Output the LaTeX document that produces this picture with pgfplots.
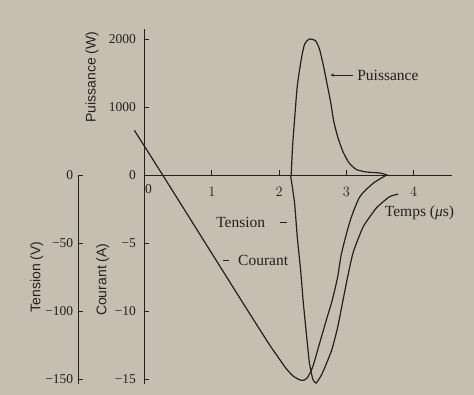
\documentclass[border=0pt]{standalone}
\usepackage{fontspec}
\setmainfont{Liberation Serif}
\setsansfont{Liberation Sans}
\usepackage{pgfplots}
\pgfplotsset{compat=1.18}
\usetikzlibrary{arrows.meta}
\definecolor{paper}{RGB}{198,191,177}
\definecolor{ink}{RGB}{36,32,29}
\pgfdeclarelayer{background}
\pgfsetlayers{background,main}

\begin{document}
\begin{tikzpicture}
\begin{axis}[
  name=main,
  x=67.3pt, y=13.6pt,
  xmin=0, xmax=4.57, ymin=-15.4, ymax=10.7,
  axis x line=middle, axis y line=left,
  axis line style={-, ink, line width=0.9pt},
  clip=false,
  xtick={1,2,3,4},
  ytick={-15,-10,-5,0,5,10},
  yticklabels={−15,−10,−5,0,1000,2000},
  ytick align=inside, xtick align=center, major tick length=5pt,
  tick style={ink, line width=0.8pt},
  xtick style={yshift=2.5pt},
  ticklabel style={font=\fontsize{13.5}{14}\selectfont, text=ink},
  yticklabel style={xshift=-5pt},
  xticklabel style={yshift=-6pt},
  extra x ticks={0.06}, extra x tick labels={0},
  extra x tick style={major tick length=0pt},
]
\coordinate (bl) at (axis cs:-2.147,-16.176);
\coordinate (tr) at (axis cs:4.896,12.868);
\coordinate (T0) at (axis cs:-0.985,0);

% Courant (A)
\addplot[ink, line width=1.2pt, smooth, tension=0.4] coordinates {
(-0.15,3.28) (0.27,0) (0.82,-4.34) (1.5,-9.7) (1.86,-12.5) (2.0,-13.5)
(2.1,-14.2) (2.2,-14.75) (2.3,-15.05) (2.36,-15.1) (2.42,-14.9) (2.5,-14.1)
(2.6,-12.4) (2.7,-10.7) (2.79,-9.2) (2.87,-7.5) (2.93,-5.7) (3.06,-3.3)
(3.2,-1.6) (3.4,-0.6) (3.6,0)};

% Tension (V), drawn on the current scale (1 A <-> 10 V)
\addplot[ink, line width=1.2pt, smooth, tension=0.3] table[y expr=\thisrow{V}/10] {
t V
2.17 0
2.23 -20.6
2.27 -45.6
2.32 -70
2.36 -94
2.41 -119
2.45 -138
2.50 -150
2.55 -153
2.64 -146
2.78 -129
2.87 -112
2.95 -92
3.01 -77
3.10 -57
3.25 -38
3.45 -24
3.64 -16
3.77 -14
};

% Puissance (W), drawn on the current scale (1 A <-> 200 W)
\addplot[ink, line width=1.2pt, smooth, tension=0.4] table[y expr=\thisrow{P}/200] {
t P
2.18 0
2.20 415
2.23 815
2.27 1304
2.33 1704
2.38 1926
2.45 2000
2.54 1975
2.60 1852
2.66 1600
2.72 1304
2.77 1050
2.81 800
2.87 563
2.95 341
3.04 178
3.15 80
3.30 44
3.49 30
3.61 0
};

\begin{scope}[every node/.style={text=ink, font=\fontsize{15.5}{16}\selectfont}]
\draw[ink, line width=0.8pt, -{Stealth[length=4pt,width=3pt]}] (axis cs:3.10,7.35) -- (axis cs:2.76,7.35);
\node[anchor=west, inner sep=0pt] at (axis cs:3.16,7.35) {Puissance};
\node[anchor=west, inner sep=0pt] at (axis cs:3.57,-2.8) {Temps (\textit{μ}s)};
\node[inner sep=0pt] at (axis cs:1.43,-3.46) {Tension};
\draw[ink, line width=0.8pt] (axis cs:2.01,-3.46) -- (axis cs:2.12,-3.46);
\draw[ink, line width=0.8pt] (axis cs:1.17,-6.3) -- (axis cs:1.26,-6.3);
\node[anchor=west, inner sep=0pt] at (axis cs:1.39,-6.3) {Courant};
\end{scope}
\begin{scope}[every node/.style={text=ink, font=\sffamily\fontsize{14}{15}\selectfont, rotate=90}]
\node at (axis cs:-0.78,7.2) {Puissance (W)};
\node at (axis cs:-0.62,-7.7) {Courant (A)};
\node at (axis cs:-1.60,-7.5) {Tension (V)};
\end{scope}
\end{axis}

\begin{axis}[
  at={(T0)}, anchor=north west,
  x=10pt, y=1.36pt,
  xmin=0, xmax=1, ymin=-154, ymax=0,
  axis y line=left, axis x line=none,
  axis line style={-, ink, line width=0.9pt},
  ytick={-150,-100,-50,0},
  yticklabels={−150,−100,−50,0},
  tick align=inside, major tick length=5pt,
  tick style={ink, line width=0.8pt},
  ticklabel style={font=\fontsize{13.5}{14}\selectfont, text=ink},
  yticklabel style={xshift=-1.5pt},
]
\end{axis}

\begin{pgfonlayer}{background}
\fill[paper] (bl) rectangle (tr);
\end{pgfonlayer}
\pgfresetboundingbox
\path[use as bounding box] (bl) rectangle (tr);
\end{tikzpicture}
\end{document}
